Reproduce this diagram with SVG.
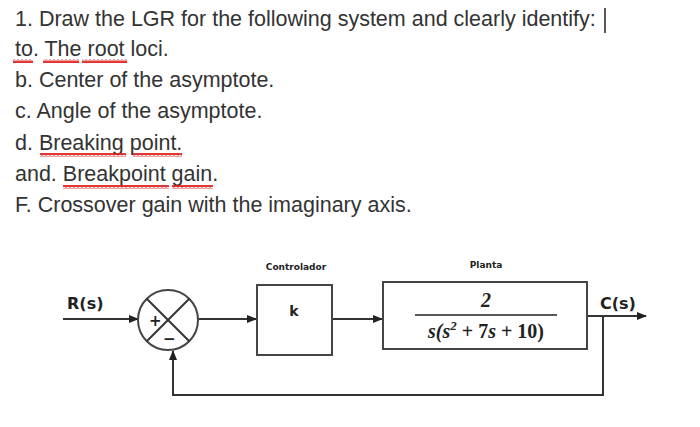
<svg xmlns="http://www.w3.org/2000/svg" width="700" height="427" viewBox="0 0 700 427">
<style>
.q{font-family:"Liberation Sans",Arial,sans-serif;font-size:21.5px;fill:#333}
.w{fill:none;stroke:#d22;stroke-width:1.2}
.b{fill:#fff;stroke:#444;stroke-width:2}
.l{fill:none;stroke:#333;stroke-width:2}
.s{font-family:"DejaVu Sans",sans-serif;font-weight:bold;fill:#222}
.m{font-family:"Liberation Serif",serif;font-weight:bold;font-style:italic;fill:#222;font-size:20px}
</style>
<defs>
<marker id="a" markerWidth="10" markerHeight="8" refX="9" refY="4" orient="auto" markerUnits="userSpaceOnUse"><path d="M0,0 L10,4 L0,8z" fill="#222"/></marker>
<pattern id="wv" width="4" height="4" patternUnits="userSpaceOnUse"><path d="M0,3 L1,1 L2,3 L3,1 L4,3" class="w"/></pattern>
</defs>
<g id="text">
<text class="q" x="15" y="26">1. Draw the LGR for the following system and clearly identify:</text>
<line x1="605" y1="8" x2="605" y2="33" stroke="#222" stroke-width="1.5"/>
<text class="q" x="15" y="56">to. The root loci.</text>
<text class="q" x="15" y="87">b. Center of the asymptote.</text>
<text class="q" x="15" y="118">c. Angle of the asymptote.</text>
<text class="q" x="15" y="150">d. Breaking point.</text>
<text class="q" x="15" y="181">and. Breakpoint gain.</text>
<text class="q" x="15" y="212">F. Crossover gain with the imaginary axis.</text>
<rect x="13" y="59" width="20" height="4" fill="url(#wv)"/>
<rect x="43" y="59" width="36" height="4" fill="url(#wv)"/>
<rect x="82" y="59" width="45" height="4" fill="url(#wv)"/>
<rect x="40" y="153" width="86" height="4" fill="url(#wv)"/>
<rect x="133" y="153" width="49" height="4" fill="url(#wv)"/>
<rect x="63" y="185" width="106" height="4" fill="url(#wv)"/>
<rect x="172" y="185" width="41" height="4" fill="url(#wv)"/>
</g>
<g id="connectors">
<line class="l" x1="63" y1="319" x2="138" y2="319" marker-end="url(#a)"/>
<line class="l" x1="198" y1="319" x2="256" y2="319" marker-end="url(#a)"/>
<line class="l" x1="332" y1="319" x2="382" y2="319" marker-end="url(#a)"/>
<line class="l" x1="587" y1="316" x2="646" y2="316" marker-end="url(#a)"/>
<polyline class="l" points="603,316 603,395 173,395 173,351" marker-end="url(#a)"/>
</g>
<g id="sum">
<circle class="b" cx="168" cy="320" r="30"/>
<line class="l" x1="147" y1="299" x2="189" y2="341" stroke-width="1.5"/>
<line class="l" x1="189" y1="299" x2="147" y2="341" stroke-width="1.5"/>
<text class="s" x="149" y="326" font-size="15" font-weight="normal">+</text>
<text class="s" x="163" y="344" font-size="15" font-weight="normal">−</text>
</g>
<g id="rs"><text class="s" x="67" y="309" font-size="16">R(s)</text></g>
<g id="controller">
<text class="s" x="296" y="270" font-size="9" text-anchor="middle">Controlador</text>
<rect class="b" x="257" y="285" width="75" height="70"/>
<text class="s" x="294" y="316" font-size="14" text-anchor="middle">k</text>
</g>
<g id="plant">
<text class="s" x="486" y="268" font-size="9" text-anchor="middle">Planta</text>
<rect class="b" x="383" y="282" width="204" height="67"/>
<text class="m" x="486" y="307" text-anchor="middle" font-style="normal">2</text>
<line x1="415" y1="315" x2="557" y2="315" stroke="#222" stroke-width="1.5"/>
<text class="m" x="486" y="338" text-anchor="middle">s(s<tspan font-size="13" dy="-8">2</tspan><tspan dy="8" font-style="normal"> + 7</tspan>s<tspan font-style="normal"> + 10)</tspan></text>
</g>
<g id="cs"><text class="s" x="600" y="309" font-size="16">C(s)</text></g>
</svg>
